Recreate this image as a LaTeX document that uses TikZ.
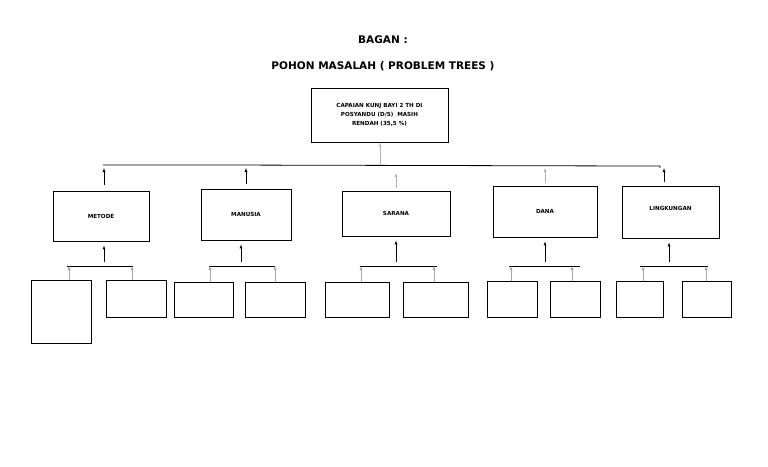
\documentclass[tikz,border=0pt]{standalone}
\usepackage{fontspec}
\setmainfont{DejaVu Sans}
\begin{document}
\begin{tikzpicture}[x=1pt,y=-1pt,
  bx/.style={draw,thick,inner sep=0pt,font=\fontsize{5.6}{9}\selectfont\bfseries,align=center},
  ar/.style={-latex,thin},
  bar/.style={thick}]
\useasboundingbox (0,0) rectangle (768,466);
\node[font=\fontsize{10.5}{12}\selectfont\bfseries] (t1) at (383,40) {BAGAN :};
\node[font=\fontsize{10.5}{12}\selectfont\bfseries] (t2) at (383,66) {POHON MASALAH ( PROBLEM TREES )};
\node[bx,minimum width=137pt,minimum height=54pt] (top) at (379.5,115) {CAPAIAN KUNJ BAYI 2 TH DI\\POSYANDU (D/S)\ \ MASIH\\RENDAH (35,5 \%)};
% level 2
\node[bx,minimum width=96pt,minimum height=50pt] (m) at (101,216) {METODE};
\node[bx,minimum width=90pt,minimum height=51pt] (u) at (246,214.5) {MANUSIA};
\node[bx,minimum width=108pt,minimum height=45pt] (s) at (396,213.5) {SARANA};
\node[bx,minimum width=104pt,minimum height=51pt] (d) at (545,211.5) {DANA};
\node[bx,minimum width=97pt,minimum height=52pt] (l) at (670.5,212) {LINGKUNGAN\\[-1pt]};
\coordinate (hl) at (103,165); \coordinate (hr) at (660,166);
\draw[bar] (hl) -- (220,165) -- (640,166) -- (hr) -- (660,168);
\draw[ar,gray!60] (380,165) -- (top.south -| 380,0);
\draw[ar] (104,185) -- (104,168);
\draw[ar] (246,184) -- (246,168);
\draw[ar,gray!60] (396,188) -- (396,173);
\draw[ar,gray!60] (545,183) -- (545,168);
\draw[ar] (664,182) -- (664,168);
% level 3
\foreach \n/\x/\a/\b in {m/104/67/133, u/241/209/275, s/396/360/437, d/545/509/580, l/669/640/708}{
  \draw[bar] (\a,266) -- (\b,266);
  \draw[ar] (\x,262) -- ([yshift=-4pt]\n.south -| \x,0);
}
\node[bx,minimum width=60pt,minimum height=63pt] (m1) at (61,311.5) {};
\node[bx,minimum width=60pt,minimum height=37pt] (m2) at (136,298.5) {};
\node[bx,minimum width=59pt,minimum height=35pt] (u1) at (203.5,299.5) {};
\node[bx,minimum width=60pt,minimum height=35pt] (u2) at (275,299.5) {};
\node[bx,minimum width=64pt,minimum height=35pt] (s1) at (357,299.5) {};
\node[bx,minimum width=65pt,minimum height=35pt] (s2) at (435.5,299.5) {};
\node[bx,minimum width=50pt,minimum height=36pt] (d1) at (512,299) {};
\node[bx,minimum width=50pt,minimum height=36pt] (d2) at (575,299) {};
\node[bx,minimum width=47pt,minimum height=36pt] (l1) at (639.5,299) {};
\node[bx,minimum width=49pt,minimum height=36pt] (l2) at (706.5,299) {};
\foreach \n/\x in {m1/69,m2/132,u1/210,u2/275,s1/361,s2/434,d1/511,d2/572,l1/643,l2/706}{
  \draw[ar,gray!70] (\n.north -| \x,0) -- (\x,266);
}
\end{tikzpicture}
\end{document}
